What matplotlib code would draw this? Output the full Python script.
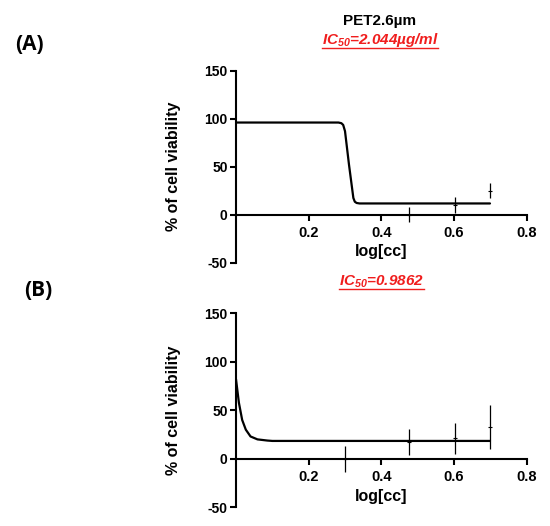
import numpy as np
import matplotlib
matplotlib.use("Agg")
import matplotlib.pyplot as plt
from matplotlib.lines import Line2D

plt.rcParams['font.family'] = ['Liberation Sans', 'DejaVu Sans']
plt.rcParams['mathtext.fontset'] = 'custom'
plt.rcParams['mathtext.it'] = 'Liberation Sans:italic:bold'
plt.rcParams['mathtext.rm'] = 'Liberation Sans:italic:bold'
plt.rcParams['mathtext.bf'] = 'Liberation Sans:italic:bold'

# ---- data ----
# Panel A fitted curve
curve_a_x = [0.0, 0.282, 0.290, 0.295, 0.300, 0.311, 0.323, 0.327, 0.332, 0.340, 0.699]
curve_a_y = [96, 96, 95.3, 93.5, 87, 52, 17.4, 13.5, 12.2, 11.7, 11.7]
# Panel A measured points
pts_a_x = [0.477, 0.602, 0.699]
pts_a_y = [0, 10, 25]
err_a = [8, 8, 8]

# Panel B fitted curve
curve_b_x = [0.0, 0.008, 0.017, 0.027, 0.040, 0.059, 0.086, 0.10, 0.699]
curve_b_y = [82, 57.7, 40, 30, 23, 20, 18.8, 18.4, 18.4]
# Panel B measured points
pts_b_x = [0.301, 0.477, 0.602, 0.699]
pts_b_y = [0, 17, 21, 33]
err_b = [13.5, 13.5, 16, 22.5]

x_ticks = [0.2, 0.4, 0.6, 0.8]
y_ticks = [-50, 0, 50, 100, 150]
title_a = "PET2.6µm"
ic50_a = r"$IC_{50}$=2.044µg/ml"
ic50_b = r"$IC_{50}$=0.9862"
x_label = "log[cc]"
y_label = "% of cell viability"

fig = plt.figure(figsize=(5.5, 5.26), dpi=100)

def make_axes(rect, cx, cy, px, py, perr):
    ax = fig.add_axes(rect)
    ax.plot(cx, cy, color='black', lw=1.6, solid_capstyle='round', solid_joinstyle='round')
    ax.errorbar(px, py, yerr=perr, fmt='_', color='black', ms=3, mew=0.8,
                elinewidth=0.9, capsize=0)
    ax.set_xlim(0, 0.8)
    ax.set_ylim(-50, 150)
    ax.spines['top'].set_visible(False)
    ax.spines['right'].set_visible(False)
    ax.spines['bottom'].set_position(('data', 0))
    for s in ('left', 'bottom'):
        ax.spines[s].set_linewidth(1.5)
    ax.set_xticks(x_ticks)
    ax.set_xticklabels([f"{v:.1f}" for v in x_ticks], fontweight='bold', fontsize=10.5)
    ax.set_yticks(y_ticks)
    ax.set_yticklabels([str(v) for v in y_ticks], fontweight='bold', fontsize=10)
    ax.tick_params(axis='both', direction='out', length=4, width=1.5, pad=2)
    ax.tick_params(axis='x', pad=4)
    ax.set_ylabel(y_label, fontweight='bold', fontsize=11.5, labelpad=17)
    ax.text(0.4, -38.5, x_label, ha='center', va='center', fontweight='bold', fontsize=11.5)
    return ax

ax_a = make_axes([0.4291, 0.5006, 0.5285, 0.365], curve_a_x, curve_a_y, pts_a_x, pts_a_y, err_a)
ax_b = make_axes([0.4291, 0.0356, 0.5285, 0.3688], curve_b_x, curve_b_y, pts_b_x, pts_b_y, err_b)

fig.text(380/550, 1 - 21.5/526, title_a, ha='center', va='center', fontweight='bold', fontsize=11)
t_a = fig.text(380/550, 1 - 40/526, ic50_a, ha='center', va='center', color='#f01e1e',
               fontweight='bold', fontstyle='italic', fontsize=11)
t_b = fig.text(381.5/550, 1 - 282/526, ic50_b, ha='center', va='center', color='#f01e1e',
               fontweight='bold', fontstyle='italic', fontsize=11)

fig.text(29/550, 1 - 44/526, "(A)", ha='center', va='center', fontweight='bold', fontsize=15,
         family=['Open Sans', 'DejaVu Sans'])
fig.text(38/550, 1 - 290/526, "(B)", ha='center', va='center', fontweight='bold', fontsize=15,
         family=['Open Sans', 'DejaVu Sans'])

fig.canvas.draw()
r = fig.canvas.get_renderer()
for t in (t_a, t_b):
    bb = t.get_window_extent(r).transformed(fig.transFigure.inverted())
    fig.add_artist(Line2D([bb.x0, bb.x1], [bb.y0 + 0.002, bb.y0 + 0.002], color='#f01e1e', lw=1.0,
                          transform=fig.transFigure))

fig.savefig("out.png", dpi=100)
